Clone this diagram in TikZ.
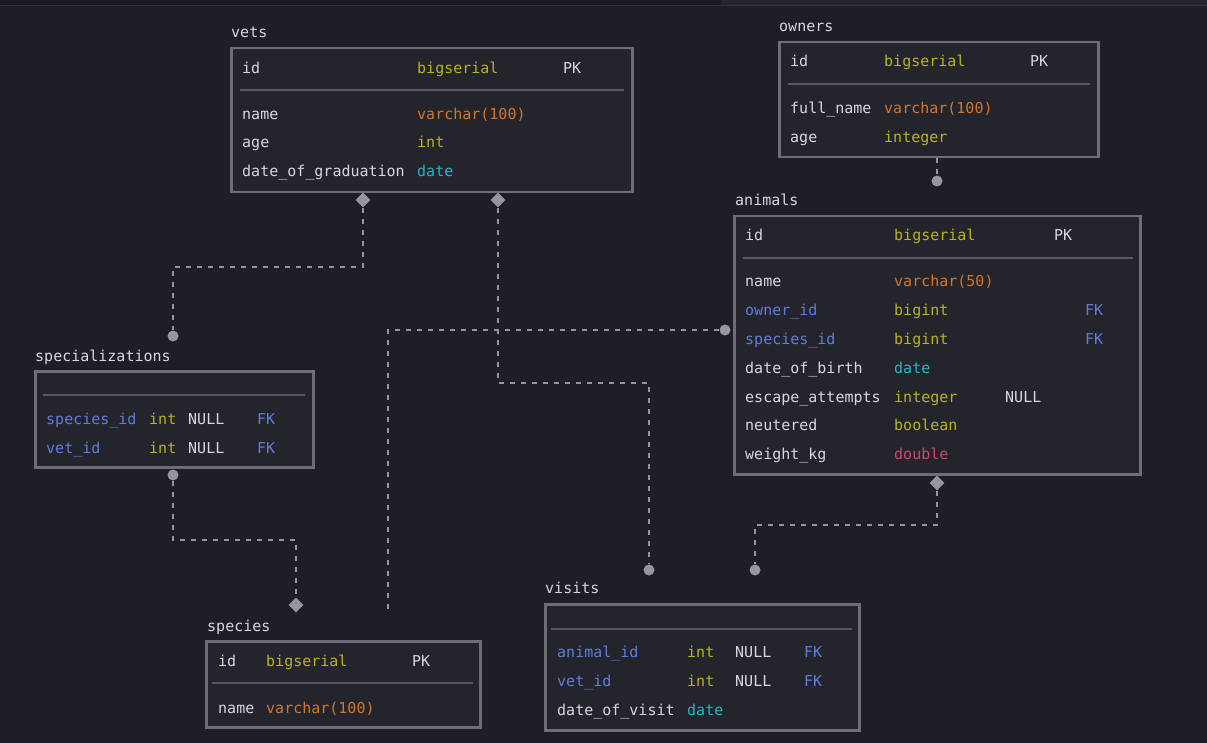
\documentclass[tikz,border=0pt]{standalone}
\usepackage{fontspec}
\newfontfamily\mono{DejaVu Sans Mono}
\usetikzlibrary{shapes.geometric}
\definecolor{bgc}{RGB}{30,30,38}
\definecolor{topc}{RGB}{27,27,34}
\definecolor{toprc}{RGB}{37,37,45}
\definecolor{toplc}{RGB}{48,48,57}
\definecolor{boxc}{RGB}{36,36,44}
\definecolor{bordc}{RGB}{110,110,120}
\definecolor{sepc}{RGB}{88,88,97}
\definecolor{linec}{RGB}{150,150,160}
\definecolor{txtc}{RGB}{215,215,220}
\definecolor{yelc}{RGB}{184,180,30}
\definecolor{orac}{RGB}{214,116,40}
\definecolor{cyac}{RGB}{40,180,200}
\definecolor{pinc}{RGB}{210,70,105}
\definecolor{bluc}{RGB}{95,125,220}
\tikzset{
  txt/.style={anchor=base west, inner sep=0pt, font=\mono\fontsize{15}{18}\selectfont, text=txtc},
  ty/.style={txt, text=yelc},
  to/.style={txt, text=orac},
  tc/.style={txt, text=cyac},
  tp/.style={txt, text=pinc},
  tb/.style={txt, text=bluc},
  tbl/.style={draw=bordc, line width=2.5pt, fill=boxc, anchor=north west, inner sep=0pt},
  sepline/.style={draw=sepc, line width=1.6pt},
  rel/.style={draw=linec, line width=1.7pt, dash pattern=on 5pt off 6pt},
  dia/.style={diamond, fill=linec, inner sep=0pt, minimum width=15pt, minimum height=15pt},
  dotn/.style={circle, fill=linec, inner sep=0pt, minimum size=11pt},
}
\begin{document}
\begin{tikzpicture}[x=1pt,y=-1pt]
% background
\fill[bgc] (0,0) rectangle (1207,743);
\useasboundingbox (0,0) rectangle (1207,743);
\fill[topc] (0,0) rectangle (721,5);
\fill[toprc] (721,0) rectangle (1207,5);
\draw[toplc, line width=1pt] (0,5.5) -- (1207,5.5);

% ---------- vets ----------
\node[txt] (vetsT) at (231,38) {vets};
\node[tbl, minimum width=401pt, minimum height=144pt] (vets) at (230,47) {};
\draw[sepline] (240,90) -- (624,90);
\node[txt] (v1a) at (242,74) {id};
\node[ty]  (v1b) at (417,74) {bigserial};
\node[txt] (v1c) at (563,74) {PK};
\node[txt] (v2a) at (242,120) {name};
\node[to]  (v2b) at (417,120) {varchar(100)};
\node[txt] (v3a) at (242,148) {age};
\node[ty]  (v3b) at (417,148) {int};
\node[txt] (v4a) at (242,177) {date\_of\_graduation};
\node[tc]  (v4b) at (417,177) {date};

% ---------- owners ----------
\node[txt] (ownT) at (779,32) {owners};
\node[tbl, minimum width=319pt, minimum height=115pt] (owners) at (778,41) {};
\draw[sepline] (788,84) -- (1090,84);
\node[txt] (o1a) at (790,67) {id};
\node[ty]  (o1b) at (884,67) {bigserial};
\node[txt] (o1c) at (1030,67) {PK};
\node[txt] (o2a) at (790,114) {full\_name};
\node[to]  (o2b) at (884,114) {varchar(100)};
\node[txt] (o3a) at (790,143) {age};
\node[ty]  (o3b) at (884,143) {integer};

% ---------- animals ----------
\node[txt] (aniT) at (735,206) {animals};
\node[tbl, minimum width=406pt, minimum height=258pt] (animals) at (733,215) {};
\draw[sepline] (743,258) -- (1133,258);
\node[txt] (a1a) at (745,241) {id};
\node[ty]  (a1b) at (894,241) {bigserial};
\node[txt] (a1c) at (1054,241) {PK};
\node[txt] (a2a) at (745,287) {name};
\node[to]  (a2b) at (894,287) {varchar(50)};
\node[tb]  (a3a) at (745,315) {owner\_id};
\node[ty]  (a3b) at (894,315) {bigint};
\node[tb]  (a3c) at (1085,315) {FK};
\node[tb]  (a4a) at (745,344) {species\_id};
\node[ty]  (a4b) at (894,344) {bigint};
\node[tb]  (a4c) at (1085,344) {FK};
\node[txt] (a5a) at (745,373) {date\_of\_birth};
\node[tc]  (a5b) at (894,373) {date};
\node[txt] (a6a) at (745,402) {escape\_attempts};
\node[ty]  (a6b) at (894,402) {integer};
\node[txt] (a6c) at (1005,402) {NULL};
\node[txt] (a7a) at (745,430) {neutered};
\node[ty]  (a7b) at (894,430) {boolean};
\node[txt] (a8a) at (745,459) {weight\_kg};
\node[tp]  (a8b) at (894,459) {double};

% ---------- specializations ----------
\node[txt] (speT) at (35,361) {specializations};
\node[tbl, minimum width=278pt, minimum height=96pt] (spec) at (34,370) {};
\draw[sepline] (43,395) -- (305,395);
\node[tb]  (s1a) at (46,424) {species\_id};
\node[ty]  (s1b) at (149,424) {int};
\node[txt] (s1c) at (188,424) {NULL};
\node[tb]  (s1d) at (257,424) {FK};
\node[tb]  (s2a) at (46,453) {vet\_id};
\node[ty]  (s2b) at (149,453) {int};
\node[txt] (s2c) at (188,453) {NULL};
\node[tb]  (s2d) at (257,453) {FK};

% ---------- species ----------
\node[txt] (spsT) at (207,631) {species};
\node[tbl, minimum width=274pt, minimum height=86pt] (species) at (205,640) {};
\draw[sepline] (212,683) -- (473,683);
\node[txt] (p1a) at (218,666) {id};
\node[ty]  (p1b) at (266,666) {bigserial};
\node[txt] (p1c) at (412,666) {PK};
\node[txt] (p2a) at (218,713) {name};
\node[to]  (p2b) at (266,713) {varchar(100)};

% ---------- visits ----------
\node[txt] (visT) at (545,593) {visits};
\node[tbl, minimum width=314pt, minimum height=126pt] (visits) at (544,603) {};
\draw[sepline] (551,629) -- (852,629);
\node[tb]  (w1a) at (557,657) {animal\_id};
\node[ty]  (w1b) at (687,657) {int};
\node[txt] (w1c) at (735,657) {NULL};
\node[tb]  (w1d) at (804,657) {FK};
\node[tb]  (w2a) at (557,686) {vet\_id};
\node[ty]  (w2b) at (687,686) {int};
\node[txt] (w2c) at (735,686) {NULL};
\node[tb]  (w2d) at (804,686) {FK};
\node[txt] (w3a) at (557,715) {date\_of\_visit};
\node[tc]  (w3b) at (687,715) {date};

% ---------- connector ends ----------
\node[dia]  (d1) at (363,200) {};
\node[dia]  (d2) at (498,200) {};
\node[dia]  (d4) at (296,605) {};
\node[dia]  (d5) at (937,483) {};
\node[dotn] (q1) at (173,336) {};
\node[dotn] (q2) at (649,570) {};
\node[dotn] (q3) at (725,330) {};
\node[dotn] (q4) at (173,475) {};
\node[dotn] (q5) at (755,570) {};
\node[dotn] (q6) at (937,181) {};
\coordinate (k1) at (173,267);
\coordinate (k2) at (649,383);
\coordinate (e3) at (388,612);
\coordinate (k4) at (296,540);
\coordinate (k5) at (755,525);
\coordinate (o6) at (937,158);

% ---------- connectors ----------
\draw[rel] (d1.south) |- (k1) -- (q1.north);
\draw[rel] (d2.south) |- (k2) -- (q2.north);
\draw[rel] (q3.west) -| (e3);
\draw[rel] (q4.south) |- (k4) -- (d4.north);
\draw[rel] (d5.south) |- (k5) -- (q5.north);
\draw[rel] (o6) -- (q6.north);
\end{tikzpicture}
\end{document}
